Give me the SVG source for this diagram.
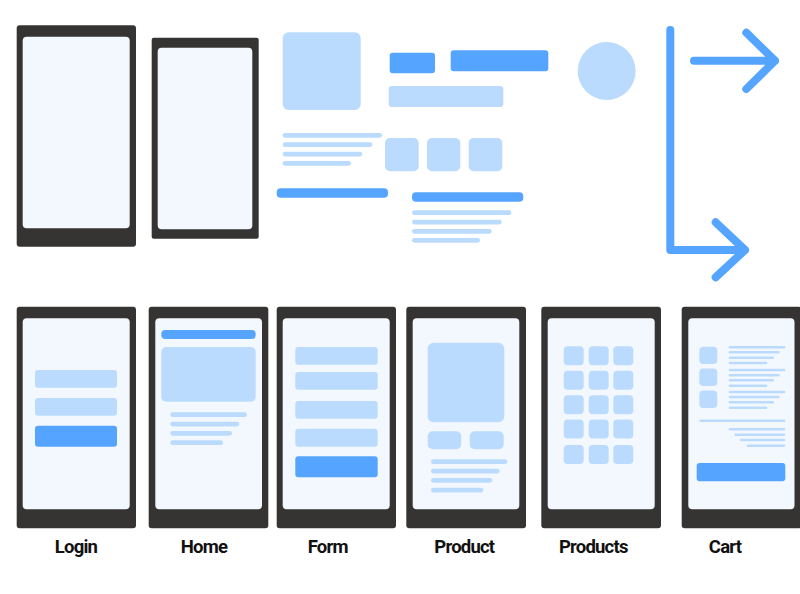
<svg xmlns="http://www.w3.org/2000/svg" width="800" height="594" viewBox="0 0 800 594">
<style>
.frame{fill:#353433}
.screen{fill:#F3F8FF}
.lt{fill:#BBDBFE}
.dk{fill:#55A4FF}
.lbl{font-family:Roboto,"Liberation Sans",sans-serif;font-weight:700;font-size:18.5px;letter-spacing:-0.8px;fill:#111;text-anchor:middle}
.arr{fill:none;stroke:#55A4FF;stroke-width:8;stroke-linecap:round;stroke-linejoin:round}
</style>
<rect width="800" height="594" fill="#fff"/>

<!-- top elements -->
<g id="phone-tall">
<rect class="frame" x="16.7" y="25.3" width="119.3" height="221.4" rx="3"/>
<rect class="screen" x="22.7" y="36.7" width="107" height="191.6" rx="4"/>
</g>
<g id="phone-short">
<rect class="frame" x="151.7" y="37.7" width="107" height="201" rx="2"/>
<rect class="screen" x="157.7" y="47.7" width="94.6" height="181.6" rx="4"/>
</g>
<g id="parts">
<rect class="lt" x="282.7" y="32.3" width="78" height="77.7" rx="6"/>
<rect class="dk" x="389.7" y="52.7" width="45.3" height="20.6" rx="3"/>
<rect class="dk" x="450.7" y="50.3" width="97.6" height="21" rx="3"/>
<rect class="lt" x="388.7" y="86" width="114.6" height="21" rx="3"/>
<rect class="lt" x="282.7" y="133" width="99.3" height="4.7" rx="2.35"/>
<rect class="lt" x="282.7" y="142.3" width="89.6" height="4.7" rx="2.35"/>
<rect class="lt" x="282.7" y="151.7" width="79.6" height="4.7" rx="2.35"/>
<rect class="lt" x="282.7" y="161" width="68.3" height="4.7" rx="2.35"/>
<rect class="lt" x="385" y="138" width="33.7" height="33.3" rx="5"/>
<rect class="lt" x="427" y="138" width="33.3" height="33.3" rx="5"/>
<rect class="lt" x="468.7" y="138" width="33.6" height="33.3" rx="5"/>
<rect class="dk" x="276.7" y="188.3" width="111.3" height="9.4" rx="4"/>
<rect class="dk" x="412" y="192.3" width="111.3" height="9.4" rx="4"/>
<rect class="lt" x="412" y="210.3" width="99.3" height="4.7" rx="2.35"/>
<rect class="lt" x="412" y="219.7" width="89.7" height="4.7" rx="2.35"/>
<rect class="lt" x="412" y="229" width="79.7" height="4.7" rx="2.35"/>
<rect class="lt" x="412" y="238" width="68" height="4.7" rx="2.35"/>
<circle cx="606.7" cy="71" r="29" fill="#BBDBFE"/>
</g>
<g id="connectors">
<path class="arr" d="M670.3 30 V250 H745 M715.7 222.3 L745 250 L715.7 277.3"/>
<path class="arr" d="M694 60.7 H775 M746.3 32.7 L775 60.7 L746.3 89"/>
</g>

<!-- bottom phones -->
<g id="login">
<rect class="frame" x="16.7" y="306.7" width="119.3" height="221.6" rx="3"/>
<rect class="screen" x="22.7" y="318.3" width="107" height="191" rx="4"/>
<rect class="lt" x="35" y="370" width="82" height="17.7" rx="3"/>
<rect class="lt" x="35" y="398" width="82" height="17.7" rx="3"/>
<rect class="dk" x="35" y="425.7" width="82" height="21" rx="3"/>
<text class="lbl" x="76" y="553">Login</text>
</g>
<g id="home">
<rect class="frame" x="148.7" y="306.7" width="119.6" height="221.6" rx="3"/>
<rect class="screen" x="155.3" y="318.3" width="106.7" height="191" rx="4"/>
<rect class="dk" x="161.3" y="330" width="94.4" height="9" rx="4"/>
<rect class="lt" x="161.3" y="347" width="94.4" height="54.7" rx="5"/>
<rect class="lt" x="170.3" y="412.3" width="76.7" height="4.7" rx="2.35"/>
<rect class="lt" x="170.3" y="421.7" width="69" height="4.7" rx="2.35"/>
<rect class="lt" x="170.3" y="431" width="61.7" height="4.7" rx="2.35"/>
<rect class="lt" x="170.3" y="440.3" width="52.7" height="4.7" rx="2.35"/>
<text class="lbl" x="204" y="553">Home</text>
</g>
<g id="form">
<rect class="frame" x="276.7" y="306.7" width="119.3" height="221.6" rx="3"/>
<rect class="screen" x="282.7" y="318.3" width="107" height="191" rx="4"/>
<rect class="lt" x="295.3" y="347" width="82.4" height="17.7" rx="3"/>
<rect class="lt" x="295.3" y="372" width="82.4" height="17.7" rx="3"/>
<rect class="lt" x="295.3" y="401" width="82.4" height="17.7" rx="3"/>
<rect class="lt" x="295.3" y="428.7" width="82.4" height="18" rx="3"/>
<rect class="dk" x="295.3" y="456.3" width="82.4" height="21" rx="3"/>
<text class="lbl" x="327.7" y="553">Form</text>
</g>
<g id="product">
<rect class="frame" x="406.3" y="306.7" width="119.7" height="221.6" rx="3"/>
<rect class="screen" x="412.7" y="318.3" width="106.6" height="191" rx="4"/>
<rect class="lt" x="427.7" y="342.7" width="76.6" height="79.6" rx="6"/>
<rect class="lt" x="427.7" y="431.3" width="33.6" height="18" rx="5"/>
<rect class="lt" x="469.7" y="431.3" width="34" height="18" rx="5"/>
<rect class="lt" x="431" y="459.3" width="76.3" height="4.7" rx="2.35"/>
<rect class="lt" x="431" y="468.7" width="68.7" height="4.7" rx="2.35"/>
<rect class="lt" x="431" y="478" width="61.3" height="4.7" rx="2.35"/>
<rect class="lt" x="431" y="487.7" width="52.3" height="4.7" rx="2.35"/>
<text class="lbl" x="464.3" y="553">Product</text>
</g>
<g id="products">
<rect class="frame" x="541.3" y="306.7" width="119.7" height="221.6" rx="3"/>
<rect class="screen" x="547.7" y="318.3" width="107" height="191" rx="4"/>
<g class="lt">
<rect x="563.7" y="346.3" width="20" height="19" rx="4"/>
<rect x="588.7" y="346.3" width="20" height="19" rx="4"/>
<rect x="613.3" y="346.3" width="20" height="19" rx="4"/>
<rect x="563.7" y="370.8" width="20" height="19" rx="4"/>
<rect x="588.7" y="370.8" width="20" height="19" rx="4"/>
<rect x="613.3" y="370.8" width="20" height="19" rx="4"/>
<rect x="563.7" y="395.2" width="20" height="19" rx="4"/>
<rect x="588.7" y="395.2" width="20" height="19" rx="4"/>
<rect x="613.3" y="395.2" width="20" height="19" rx="4"/>
<rect x="563.7" y="419.6" width="20" height="19" rx="4"/>
<rect x="588.7" y="419.6" width="20" height="19" rx="4"/>
<rect x="613.3" y="419.6" width="20" height="19" rx="4"/>
<rect x="563.7" y="445" width="20" height="19" rx="4"/>
<rect x="588.7" y="445" width="20" height="19" rx="4"/>
<rect x="613.3" y="445" width="20" height="19" rx="4"/>
</g>
<text class="lbl" x="593.3" y="553">Products</text>
</g>
<g id="cart">
<rect class="frame" x="681.7" y="306.7" width="120" height="221.6" rx="3"/>
<rect class="screen" x="688.3" y="318.3" width="106.2" height="191" rx="4"/>
<g class="lt">
<rect x="699.3" y="346.7" width="18" height="17.3" rx="4"/>
<rect x="699.3" y="368.5" width="18" height="17.5" rx="4"/>
<rect x="699.3" y="390.5" width="18" height="17.5" rx="4"/>
<rect x="728.7" y="346" width="56.6" height="2.6" rx="1.3"/>
<rect x="728.7" y="351" width="51" height="2.6" rx="1.3"/>
<rect x="728.7" y="356.4" width="45.3" height="2.6" rx="1.3"/>
<rect x="728.7" y="361.7" width="38.6" height="2.6" rx="1.3"/>
<rect x="728.7" y="368.7" width="56.6" height="2.6" rx="1.3"/>
<rect x="728.7" y="374" width="51" height="2.6" rx="1.3"/>
<rect x="728.7" y="379" width="45.3" height="2.6" rx="1.3"/>
<rect x="728.7" y="384.4" width="38.6" height="2.6" rx="1.3"/>
<rect x="728.7" y="390.7" width="56.6" height="2.6" rx="1.3"/>
<rect x="728.7" y="395.7" width="51" height="2.6" rx="1.3"/>
<rect x="728.7" y="401" width="45.3" height="2.6" rx="1.3"/>
<rect x="728.7" y="406.4" width="38.6" height="2.6" rx="1.3"/>
<rect x="699.3" y="419.4" width="86" height="2.6" rx="1.3"/>
<rect x="728.7" y="428" width="56.6" height="2.6" rx="1.3"/>
<rect x="734.3" y="433.4" width="51" height="2.6" rx="1.3"/>
<rect x="740" y="438.7" width="45.3" height="2.6" rx="1.3"/>
<rect x="746.7" y="444.4" width="38.6" height="2.6" rx="1.3"/>
</g>
<rect class="dk" x="696.7" y="463" width="88.6" height="18.3" rx="3"/>
<text class="lbl" x="725" y="553">Cart</text>
</g>
</svg>
